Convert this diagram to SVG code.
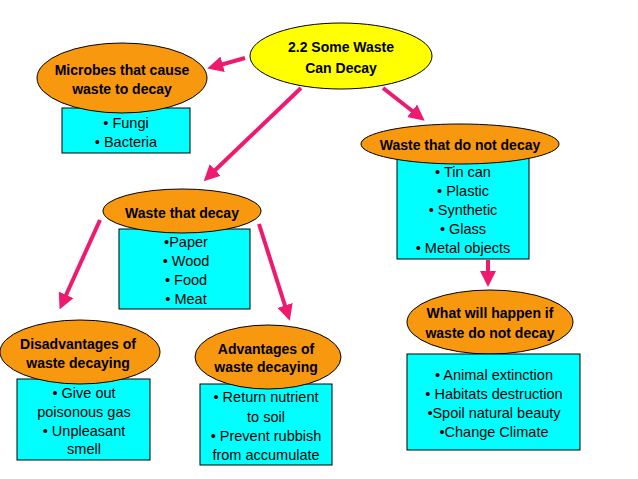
<svg xmlns="http://www.w3.org/2000/svg" width="638" height="479" viewBox="0 0 638 479">
<style>
.o{fill:#f7980f;stroke:#000;stroke-width:1}
.y{fill:#ffff00;stroke:#000;stroke-width:1}
.b{fill:#00ffff;stroke:#000;stroke-width:1}
.h{font-family:"Liberation Sans",Arial,sans-serif;font-weight:bold;font-size:14px;text-anchor:middle;fill:#000}
.t{font-family:"Liberation Sans",Arial,sans-serif;font-size:14.5px;text-anchor:middle;fill:#000}
.c line{stroke:#ee1a6e;stroke-width:4}
</style>
<defs><marker id="a" markerWidth="4" markerHeight="4" refX="2.5" refY="2" orient="auto" markerUnits="strokeWidth"><path d="M0,0L4,2L0,4z" fill="#ee1a6e"/></marker></defs>
<rect width="638" height="479" fill="#fff"/>
<g class="c">
<line x1="245" y1="58" x2="213" y2="67" marker-end="url(#a)"/>
<line x1="301" y1="88" x2="208" y2="177" marker-end="url(#a)"/>
<line x1="383" y1="88" x2="420" y2="117" marker-end="url(#a)"/>
<line x1="100" y1="220" x2="62" y2="304" marker-end="url(#a)"/>
<line x1="259" y1="224" x2="288" y2="315" marker-end="url(#a)"/>
<line x1="488" y1="260" x2="488" y2="281" marker-end="url(#a)"/>
</g>
<g id="main"><ellipse class="y" cx="341" cy="56" rx="91" ry="33"/><text class="h" x="341" y="52" font-size="15">2.2 Some Waste</text><text class="h" x="341" y="73" font-size="15">Can Decay</text></g>
<g id="microbes"><rect class="b" x="62" y="108" width="128" height="45"/><ellipse class="o" cx="122" cy="78" rx="85" ry="35"/><text class="h" x="122" y="75">Microbes that cause</text><text class="h" x="122" y="94">waste to decay</text><text class="t" x="126" y="128">• Fungi</text><text class="t" x="126" y="147">• Bacteria</text></g>
<g id="nondecay"><rect class="b" x="397" y="158" width="132" height="101"/><ellipse class="o" cx="460" cy="144" rx="99" ry="20"/><text class="h" x="460" y="150">Waste that do not decay</text><text class="t" x="463" y="177">• Tin can</text><text class="t" x="463" y="196">• Plastic</text><text class="t" x="463" y="215">• Synthetic</text><text class="t" x="463" y="234">• Glass</text><text class="t" x="463" y="253">• Metal objects</text></g>
<g id="decay"><rect class="b" x="119" y="229" width="131" height="80"/><ellipse class="o" cx="182" cy="211" rx="79" ry="22"/><text class="h" x="182" y="218">Waste that decay</text><text class="t" x="186" y="247">•Paper</text><text class="t" x="186" y="266">• Wood</text><text class="t" x="186" y="285">• Food</text><text class="t" x="186" y="304">• Meat</text></g>
<g id="disadv"><rect class="b" x="17" y="379" width="133" height="81"/><ellipse class="o" cx="80" cy="352" rx="80" ry="32"/><text class="h" x="78" y="349">Disadvantages of</text><text class="h" x="78" y="368">waste decaying</text><text class="t" x="84" y="398">• Give out</text><text class="t" x="84" y="417">poisonous gas</text><text class="t" x="84" y="436">• Unpleasant</text><text class="t" x="84" y="454">smell</text></g>
<g id="adv"><rect class="b" x="200" y="384" width="132" height="81"/><ellipse class="o" cx="268" cy="357" rx="73" ry="32"/><text class="h" x="266" y="354">Advantages of</text><text class="h" x="266" y="372">waste decaying</text><text class="t" x="266" y="402">• Return nutrient</text><text class="t" x="266" y="422">to soil</text><text class="t" x="266" y="441">• Prevent rubbish</text><text class="t" x="266" y="460">from accumulate</text></g>
<g id="happen"><ellipse class="o" cx="490" cy="322" rx="83" ry="32"/><rect class="b" x="407" y="354" width="173" height="96"/><text class="h" x="490" y="318">What will happen if</text><text class="h" x="490" y="338">waste do not decay</text><text class="t" x="494" y="380">• Animal extinction</text><text class="t" x="494" y="399">• Habitats destruction</text><text class="t" x="494" y="418">•Spoil natural beauty</text><text class="t" x="494" y="437">•Change Climate</text></g>
</svg>
